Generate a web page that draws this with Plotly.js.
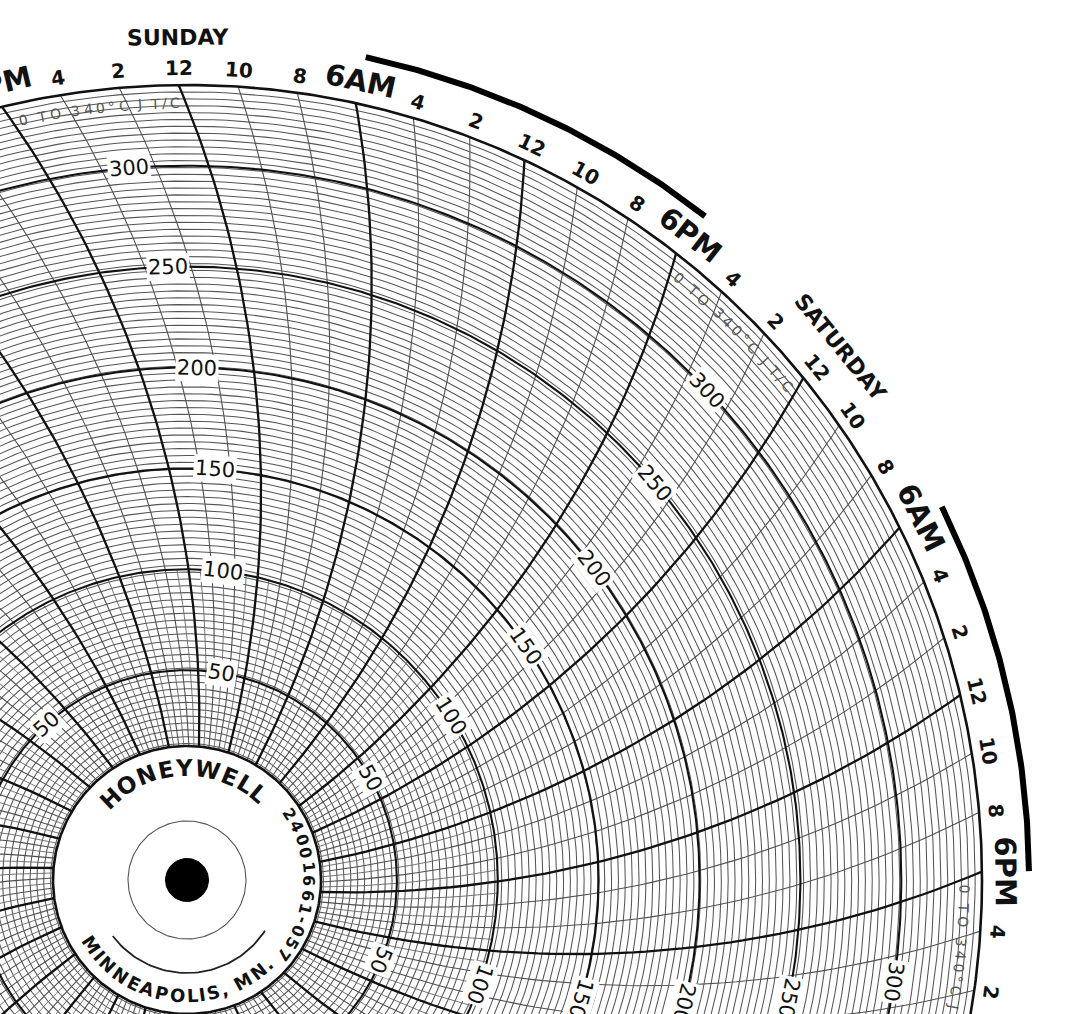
<!DOCTYPE html>
<html><head><meta charset="utf-8">
<script src="https://cdn.plot.ly/plotly-3.0.1.min.js"></script>
<style>html,body{margin:0;padding:0;background:#fff;overflow:hidden}</style>
</head><body><div id="chart" style="width:1080px;height:1014px"></div>
<script>
// ---------------- chart data ----------------
const rangeMin = 0;
const rangeMax = 340;
const fineDivisions = 100;
const majorValues = [50, 100, 150, 200, 250, 300];
const valueLabels = ['50', '100', '150', '200', '250', '300'];
const hourlyLineLimit = 100;
const dayNames = ['SUNDAY', 'SATURDAY', 'FRIDAY', 'THURSDAY', 'WEDNESDAY', 'TUESDAY', 'MONDAY'];
const dayNoonHours = [0, -24, -48, -72, -96, -120, -144];
const hourOffsets = [0, 2, 4, 6, 8, 10, 12, 14, 16, 18, 20, 22];
const hourLabels = ['12', '2', '4', '6PM', '8', '10', '12', '2', '4', '6AM', '8', '10'];
const nightStartOffset = 6;
const nightEndOffset = 18;
const scaleLabelOffset = 3;
const rangeText = '0 TO 340°C J T/C';
const brandText = 'HONEYWELL';
const cityText = 'MINNEAPOLIS, MN.';
const chartNumber = '24001661-057';

// ---------------- geometry ----------------
const CX = 187, CY = 880, R_HUB = 134, R_OUT = 795, R_ZERO = 109;
const PX_PER_UNIT = (R_OUT - R_ZERO) / (rangeMax - rangeMin);
const DEG_PER_HOUR = 360 / 168, SUN_NOON_DEG = 90.6, ARM = 1050;
const d2r = Math.PI / 180;
const rOf = v => R_ZERO + (v - rangeMin) * PX_PER_UNIT;
const outerDeg = h => SUN_NOON_DEG + h * DEG_PER_HOUR;
const asinD = x => Math.asin(x) / d2r;
const spokeDeg = (h, r) => outerDeg(h) - asinD(R_OUT / (2 * ARM)) + asinD(r / (2 * ARM));
const P = (r, deg) => [CX + r * Math.cos(deg * d2r), CY - r * Math.sin(deg * d2r)];
const norm = a => (((a + 180) % 360) + 360) % 360 - 180;

function addArc(acc, r, a0, a1, step) {
  const n = Math.max(2, Math.ceil(Math.abs(a1 - a0) / step));
  for (let i = 0; i <= n; i++) { const p = P(r, a0 + (a1 - a0) * i / n); acc.x.push(p[0]); acc.y.push(p[1]); }
  acc.x.push(null); acc.y.push(null);
}
function addSpoke(acc, h, r0, r1) {
  const n = Math.ceil((r1 - r0) / 12);
  for (let i = 0; i <= n; i++) { const r = r0 + (r1 - r0) * i / n; const p = P(r, spokeDeg(h, r)); acc.x.push(p[0]); acc.y.push(p[1]); }
  acc.x.push(null); acc.y.push(null);
}
const mk = () => ({x: [], y: []});
const fine = mk(), heavyC = mk(), hourS = mk(), twoS = mk(), sixS = mk(), outer = mk(), night = mk();
const hub = mk(), ring = mk(), hubArc = mk(), dot = mk();

const divStep = (rangeMax - rangeMin) / fineDivisions;
for (let i = 0; i < fineDivisions; i++) {
  const r = rOf(rangeMin + i * divStep);
  if (r < R_HUB - 2) continue;
  addArc(fine, r, 0, 360, 1);
}
majorValues.forEach(v => addArc(heavyC, rOf(v), 0, 360, 0.5));
addArc(outer, R_OUT, 0, 360, 0.4);
for (let h = -84; h < 84; h++) {
  const m = ((h % 6) + 6) % 6;
  if (m === 0) addSpoke(sixS, h, R_HUB, R_OUT);
  else if (m % 2 === 0) addSpoke(twoS, h, R_HUB, R_OUT);
  else addSpoke(hourS, h, R_HUB, rOf(hourlyLineLimit));
}
dayNoonHours.forEach(n => addArc(night, 842, outerDeg(n + nightStartOffset), outerDeg(n + nightEndOffset), 0.25));
addArc(hub, R_HUB, 0, 360, 1);
addArc(ring, 59, 0, 360, 2);
addArc(hubArc, 93, -143, -33, 2);
addArc(dot, 21.5, 0, 360, 5);

const line = (d, color, width) => ({type: 'scatter', mode: 'lines', x: d.x, y: d.y, hoverinfo: 'skip',
  line: {color: color, width: width}});
const traces = [
  line(fine, '#555555', 1.05),
  line(hourS, '#666666', 0.9),
  line(twoS, '#505050', 1.1),
  line(heavyC, '#111', 2.1),
  line(sixS, '#111', 2.3),
  line(outer, '#111', 2.6),
  line(night, '#000', 6),
  Object.assign(line(hub, '#111', 2.6), {fill: 'toself', fillcolor: '#ffffff'}),
  line(ring, '#555', 1.1),
  line(hubArc, '#222', 1.8),
  Object.assign(line(dot, '#000', 1), {fill: 'toself', fillcolor: '#000'})
];

// ---------------- text ----------------
const ann = [];
function addText(p, text, angle, font, extra) {
  // a label whose centre lies just past the left edge is pinned to the edge and shifted (partly visible)
  if (p[1] < -2 || p[1] > 1016 || p[0] > 1082 || p[0] < -28) return;
  let x = p[0], xs = 0;
  if (x < 0) { xs = x; x = 0; }
  ann.push(Object.assign({x: x, y: p[1], xref: 'x', yref: 'y', xshift: xs, text: text, showarrow: false,
    textangle: norm(angle), xanchor: 'center', yanchor: 'middle', font: font}, extra || {}));
}
const ctx = document.createElement('canvas').getContext('2d');
function curved(str, r, a0, a1, font, outward) {
  ctx.font = (font.weight === 'bold' ? 'bold ' : '') + font.size + 'px "' + font.family + '"';
  const chars = [...str];
  const w = chars.map(c => ctx.measureText(c).width);
  const tot = w.reduce((s, v) => s + v, 0);
  let cum = 0;
  chars.forEach((c, i) => {
    const a = a0 + (a1 - a0) * (cum + w[i] / 2) / tot;
    cum += w[i];
    if (c === ' ') return;
    const p = P(r, a);
    if (p[0] < 0 || p[1] > 1008) return;
    addText(p, c, outward ? 90 - a : -90 - a, font);
  });
}

const F = 'DejaVu Sans';
dayNoonHours.forEach((noon, k) => {
  hourOffsets.forEach((off, j) => {
    const big = hourLabels[j].length > 2;
    const a = outerDeg(noon + off);
    addText(P(big ? 818 : 812, a), hourLabels[j], 90 - a,
      {family: F, size: big ? 29 : 20, color: '#111', weight: 'bold'});
  });
  const ad = outerDeg(noon);
  addText(P(843, ad), dayNames[k], 90 - ad, {family: F, size: 22, color: '#111', weight: 'bold'});
  majorValues.forEach((v, i) => {
    const r = rOf(v), a = spokeDeg(noon + scaleLabelOffset, r);
    const p = P(r, a);
    if (p[0] < 0) return;
    addText(p, valueLabels[i], 90 - a, {family: F, size: 21, color: '#111'},
      {bgcolor: '#ffffff', borderpad: 1});
  });
  const rt = 777;
  curved(rangeText, rt, spokeDeg(noon + nightStartOffset, rt) - 0.3, spokeDeg(noon, rt) + 0.3,
    {family: F, size: 14, color: '#555'}, true);
});
curved(brandText, 112, 139, 46, {family: F, size: 23, color: '#111', weight: 'bold'}, true);
curved(cityText, 116, -151, -44, {family: F, size: 18, color: '#111', weight: 'bold'}, false);
curved(chartNumber, 122, 36, -41, {family: F, size: 16, color: '#111', weight: 'bold'}, true);

const layout = {
  width: 1080, height: 1014, margin: {l: 0, r: 0, t: 0, b: 0},
  paper_bgcolor: '#ffffff', plot_bgcolor: '#ffffff', showlegend: false,
  xaxis: {range: [0, 1080], visible: false, fixedrange: true},
  yaxis: {range: [1014, 0], visible: false, fixedrange: true},
  annotations: ann
};
Plotly.newPlot('chart', traces, layout, {staticPlot: true, displayModeBar: false});
</script>
</body></html>
